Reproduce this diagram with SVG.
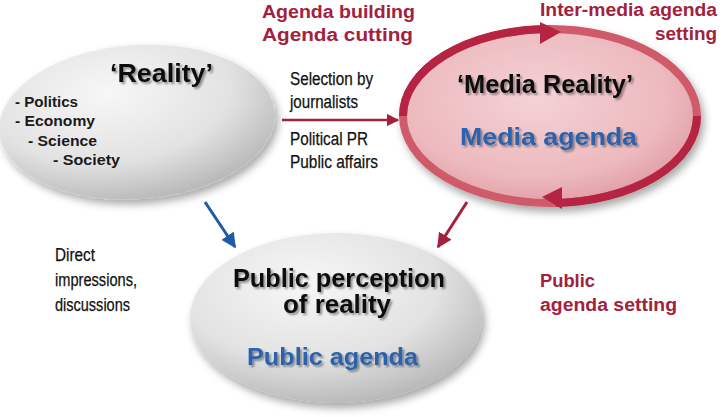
<svg xmlns="http://www.w3.org/2000/svg" width="725" height="417" viewBox="0 0 725 417">
<style>
.big{font-family:"Liberation Sans",Arial,sans-serif;font-weight:bold;font-size:25px;fill:#111;}
.blue{font-family:"Liberation Sans",Arial,sans-serif;font-weight:bold;font-size:24px;fill:#2a62ad;}
.list{font-family:"Liberation Sans",Arial,sans-serif;font-weight:bold;font-size:14.5px;fill:#1a1a1a;}
.red{font-family:"Liberation Sans",Arial,sans-serif;font-weight:bold;font-size:18px;fill:#a3213d;}
.cond{font-family:"Liberation Sans Narrow","Liberation Sans",Arial,sans-serif;font-size:18px;fill:#111;stroke:#111;stroke-width:0.25;}
</style>
<defs>
<radialGradient id="gray" cx="0.4" cy="0.3" r="0.75">
<stop offset="0" stop-color="#f7f7f7"/>
<stop offset="0.6" stop-color="#e2e2e2"/>
<stop offset="1" stop-color="#b4b4b4"/>
</radialGradient>
<radialGradient id="pink" cx="0.45" cy="0.4" r="0.65">
<stop offset="0" stop-color="#f4d2d5"/>
<stop offset="0.7" stop-color="#ecb9be"/>
<stop offset="1" stop-color="#df98a1"/>
</radialGradient>
<filter id="sh" x="-10%" y="-10%" width="125%" height="130%">
<feGaussianBlur in="SourceAlpha" stdDeviation="4"/>
<feOffset dx="3" dy="5" result="b"/>
<feComponentTransfer><feFuncA type="linear" slope="0.35"/></feComponentTransfer>
<feMerge><feMergeNode/><feMergeNode in="SourceGraphic"/></feMerge>
</filter>
<filter id="ts" x="-5%" y="-20%" width="115%" height="150%">
<feGaussianBlur in="SourceAlpha" stdDeviation="1.2"/>
<feOffset dx="1.5" dy="2"/>
<feComponentTransfer><feFuncA type="linear" slope="0.4"/></feComponentTransfer>
<feMerge><feMergeNode/><feMergeNode in="SourceGraphic"/></feMerge>
</filter>
<marker id="ar" viewBox="0 0 10 10" refX="9" refY="5" markerWidth="5" markerHeight="5" orient="auto" markerUnits="strokeWidth">
<path d="M0,0 L10,5 L0,10 z" fill="#a3213d"/>
</marker>
<marker id="ab" viewBox="0 0 10 10" refX="9" refY="5" markerWidth="5" markerHeight="5" orient="auto" markerUnits="strokeWidth">
<path d="M0,0 L10,5 L0,10 z" fill="#1f5aa6"/>
</marker>
</defs>
<rect width="725" height="417" fill="#fff"/>

<g id="reality">
<ellipse cx="137" cy="122" rx="138" ry="77" transform="rotate(-4 137 122)" fill="url(#gray)" filter="url(#sh)"/>
<text class="big" x="110" y="82" textLength="103" lengthAdjust="spacingAndGlyphs" filter="url(#ts)">‘Reality’</text>
<text class="list" x="15" y="107" textLength="63" lengthAdjust="spacingAndGlyphs">- Politics</text>
<text class="list" x="15" y="126" textLength="80" lengthAdjust="spacingAndGlyphs">- Economy</text>
<text class="list" x="28" y="146" textLength="69" lengthAdjust="spacingAndGlyphs">- Science</text>
<text class="list" x="53" y="165" textLength="67" lengthAdjust="spacingAndGlyphs">- Society</text>
</g>

<g id="media">
<ellipse cx="550" cy="116" rx="147" ry="87" fill="url(#pink)" stroke="#cf5a6b" stroke-width="8" filter="url(#sh)"/>
<path d="M403,116 A147,87 0 0 1 545,29" fill="none" stroke="#b52442" stroke-width="8"/>
<path d="M697,116 A147,87 0 0 1 556,203" fill="none" stroke="#b52442" stroke-width="8"/>
<polygon points="540,22 561,32 540,44" fill="#b52442"/>
<polygon points="562,187 542,197 562,209" fill="#b52442"/>
<text class="big" x="457" y="93" textLength="176" lengthAdjust="spacingAndGlyphs" filter="url(#ts)">‘Media Reality’</text>
<text class="blue" x="460" y="145" textLength="177" lengthAdjust="spacingAndGlyphs" filter="url(#ts)">Media agenda</text>
</g>

<g id="public">
<ellipse cx="336" cy="318" rx="146" ry="85" fill="url(#gray)" filter="url(#sh)"/>
<text class="big" x="233" y="287" textLength="212" lengthAdjust="spacingAndGlyphs" filter="url(#ts)">Public perception</text>
<text class="big" x="283" y="313" textLength="108" lengthAdjust="spacingAndGlyphs" filter="url(#ts)">of reality</text>
<text class="blue" x="247" y="365" textLength="171" lengthAdjust="spacingAndGlyphs" filter="url(#ts)">Public agenda</text>
</g>

<g id="connectors">
<line x1="282" y1="120" x2="398" y2="120" stroke="#a3213d" stroke-width="2.5" marker-end="url(#ar)"/>
<line x1="205" y1="202" x2="235" y2="247" stroke="#1f5aa6" stroke-width="3" marker-end="url(#ab)"/>
<line x1="467" y1="202" x2="438" y2="247" stroke="#a3213d" stroke-width="3" marker-end="url(#ar)"/>
</g>

<g id="labels">
<text class="red" x="262" y="18" textLength="153" lengthAdjust="spacingAndGlyphs">Agenda building</text>
<text class="red" x="262" y="41" textLength="151" lengthAdjust="spacingAndGlyphs">Agenda cutting</text>
<text class="red" x="540" y="16" textLength="177" lengthAdjust="spacingAndGlyphs">Inter-media agenda</text>
<text class="red" x="655" y="40" textLength="62" lengthAdjust="spacingAndGlyphs">setting</text>
<text class="cond" x="290" y="85" textLength="83" lengthAdjust="spacingAndGlyphs">Selection by</text>
<text class="cond" x="290" y="108" textLength="68" lengthAdjust="spacingAndGlyphs">journalists</text>
<text class="cond" x="290" y="145" textLength="78" lengthAdjust="spacingAndGlyphs">Political PR</text>
<text class="cond" x="290" y="168" textLength="88" lengthAdjust="spacingAndGlyphs">Public affairs</text>
<text class="cond" x="55" y="261" textLength="40" lengthAdjust="spacingAndGlyphs">Direct</text>
<text class="cond" x="55" y="286" textLength="82" lengthAdjust="spacingAndGlyphs">impressions,</text>
<text class="cond" x="55" y="311" textLength="75" lengthAdjust="spacingAndGlyphs">discussions</text>
<text class="red" x="540" y="287" textLength="55" lengthAdjust="spacingAndGlyphs">Public</text>
<text class="red" x="540" y="311" textLength="137" lengthAdjust="spacingAndGlyphs">agenda setting</text>
</g>
</svg>
